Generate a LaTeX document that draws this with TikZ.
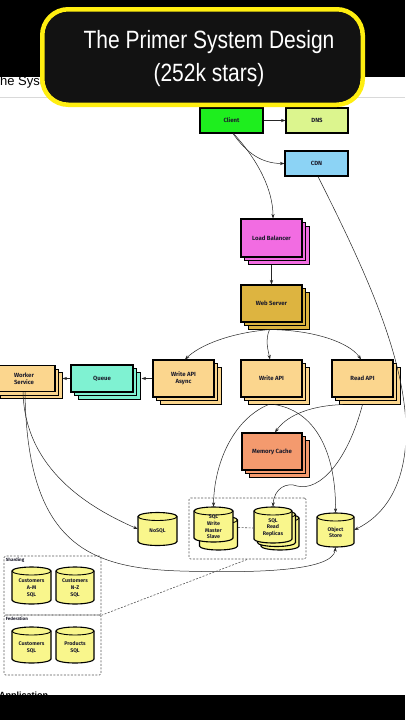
\documentclass[tikz,border=0pt]{standalone}
\usepackage{fontspec}
\usepackage{graphicx}
\setmainfont{Liberation Sans}
\newfontfamily\boxfont{Fira Sans}
\usetikzlibrary{shadows,arrows.meta,calc}
\definecolor{cgreen}{HTML}{1EEE1E}
\definecolor{cdns}{HTML}{DCF58E}
\definecolor{ccdn}{HTML}{8CD3F5}
\definecolor{clb}{HTML}{F26CE2}
\definecolor{cws}{HTML}{DDB440}
\definecolor{capi}{HTML}{FBD68E}
\definecolor{cq}{HTML}{7FF2D2}
\definecolor{cmc}{HTML}{F49A6E}
\definecolor{ycyl}{HTML}{F9F68C}
\definecolor{textc}{HTML}{1C1C2C}
\definecolor{byellow}{HTML}{FFEE10}
\definecolor{bannerbg}{HTML}{121212}
\tikzset{
  box/.style={draw=black, line width=1.1pt, fill=#1, minimum width=61pt, minimum height=37pt,
    inner sep=1pt, font=\boxfont\bfseries\fontsize{6}{7}\selectfont, align=center, text=textc},
  stackbox/.style={box=#1,
    general shadow={shadow xshift=7pt, shadow yshift=-7pt, fill=#1, draw=black, line width=0.8pt},
    general shadow={shadow xshift=3.5pt, shadow yshift=-3.5pt, fill=#1, draw=black, line width=0.8pt}},
  dbtext/.style={inner sep=0pt, font=\boxfont\bfseries\fontsize{5.3}{6.6}\selectfont, align=center, text=textc},
  dbline/.style={draw=black, line width=1.1pt, fill=ycyl},
  dashbox/.style={draw=black!65, dash pattern=on 2pt off 1.5pt, line width=0.6pt, rounded corners=1.5pt, inner sep=0pt},
  dashline/.style={draw=black!65, dash pattern=on 2pt off 1.5pt, line width=0.6pt},
  grouplabel/.style={inner sep=0pt, font=\boxfont\bfseries\fontsize{4.5}{5}\selectfont, text=textc},
  conn/.style={draw=black!85, line width=0.5pt, -{Stealth[length=4.5pt,width=3.2pt]}},
  titletext/.style={text=white, inner sep=0pt, font=\fontsize{25}{25}\selectfont}
}
\newcommand\dbshape[4]{%
  \draw[dbline] ({#1-#3},{#2+#4-4}) -- ({#1-#3},{#2-#4+4})
    arc[start angle=180,end angle=360,x radius=#3pt,y radius=4pt]
    -- ({#1+#3},{#2+#4-4})
    arc[start angle=0,end angle=180,x radius=#3pt,y radius=4pt] -- cycle;
  \draw[line width=0.9pt] ({#1-#3},{#2+#4-4})
    arc[start angle=180,end angle=360,x radius=#3pt,y radius=4pt];
}
\newcommand\dbnode[6]{%
  \dbshape{#2}{#3}{#4}{#5}%
  \node[inner sep=0pt, minimum width={2*#4}, minimum height={2*#5}] (#1) at (#2,#3) {};
  \node[dbtext] (#1text) at (#2,{#3-2.5}) {#6};
}
\begin{document}
\begin{tikzpicture}[x=1pt,y=1pt]
\useasboundingbox (0,0) rectangle (405,-720);
\clip (0,0) rectangle (405,-720);
\fill[white] (0,0) rectangle (405,-720);

% page header
\node[anchor=west, inner sep=0pt, font=\fontsize{13}{13}\selectfont] (pagetitle) at (-8,-82) {The System Design Primer};
\draw[black!15, line width=0.6pt] (0,-97) -- (405,-97);

% group boxes
\node[dashbox, minimum width=117pt, minimum height=61pt] (sqlgrp) at (247.5,-528.5) {};
\node[dashbox, minimum width=97pt, minimum height=59pt] (shard) at (52.5,-585.5) {};
\node[dashbox, minimum width=97pt, minimum height=60pt] (fed) at (52.5,-645) {};
\node[grouplabel, anchor=north west] (shardlbl) at ([xshift=2pt,yshift=-1.5pt]shard.north west) {Sharding};
\node[grouplabel, anchor=north west] (fedlbl) at ([xshift=2pt,yshift=-1.5pt]fed.north west) {Federation};

% boxes
\node[box=cgreen, minimum height=25pt, minimum width=63pt] (client) at (231.5,-120.5) {Client};
\node[box=cdns, minimum height=25pt, minimum width=62pt] (dns) at (317,-120.5) {DNS};
\node[box=ccdn, minimum height=25pt, minimum width=63pt] (cdn) at (316.5,-163.5) {CDN};
\node[stackbox=clb, minimum height=38pt] (lb) at (271.5,-238) {Load Balancer};
\node[stackbox=cws] (ws) at (271.5,-303.5) {Web Server};
\node[stackbox=capi] (waa) at (183.5,-378.5) {Write API\\Async};
\node[stackbox=capi] (wa) at (271.5,-378.5) {Write API};
\node[stackbox=capi] (ra) at (362.5,-378.5) {Read API};
\node[stackbox=cq, minimum width=62pt, minimum height=27pt] (queue) at (102,-378.5) {Queue};
\node[stackbox=capi, minimum width=62pt, minimum height=26pt] (worker) at (24,-378.5) {Worker\\Service};
\node[stackbox=cmc, minimum width=60pt] (mc) at (272,-451.5) {Memory Cache};

% databases
\dbnode{nosql}{157.5}{-529}{19.5}{16.5}{NoSQL}
\dbshape{218.5}{-533}{19}{17}
\dbnode{sqlw}{213.5}{-524.5}{19.5}{17.5}{SQL\\Write\\Master\\Slave}
\dbshape{280}{-532}{19}{18}
\dbshape{276.5}{-528.5}{19}{18}
\dbnode{sqlr}{273}{-525}{19}{18}{SQL\\Read\\Replicas}
\dbnode{os}{335.5}{-530}{18.5}{17}{Object\\Store}
\dbnode{cam}{31.5}{-585.5}{19.5}{18.5}{Customers\\A-M\\SQL}
\dbnode{cnz}{75}{-585.5}{19}{18.5}{Customers\\N-Z\\SQL}
\dbnode{csql}{31.5}{-645}{19.5}{18}{Customers\\SQL}
\dbnode{psql}{75}{-645}{19}{18}{Products\\SQL}

% connectors
\draw[conn] (client.east) -- (dns.west);
\draw[conn] ([xshift=1.5pt]client.south) to[out=-55,in=180] (cdn.west);
\draw[conn] ([xshift=2pt]client.south) .. controls (258,-160) and (273,-190) .. ([xshift=1.5pt]lb.north);
\draw[conn] ([yshift=-7pt]lb.south) -- (ws.north);
\coordinate (wsb) at ([xshift=-2pt,yshift=-7pt]ws.south);
\draw[conn] (wsb) .. controls (230,-333) and (200,-345) .. ([xshift=1.5pt]waa.north);
\draw[conn] (wsb) .. controls (265,-340) and (268,-350) .. ([xshift=-1.5pt]wa.north);
\draw[conn] (wsb) .. controls (315,-330) and (350,-343) .. ([xshift=-1.5pt]ra.north);
\draw[conn] (waa.west) -- ([xshift=8pt]queue.east);
\draw[conn] (queue.west) -- ([xshift=7pt]worker.east);
\draw[conn] ([xshift=-1pt]worker.south) .. controls (25,-470) and (90,-508) .. (nosql.west);
\draw[conn] ([xshift=1pt]worker.south) .. controls (27,-545) and (90,-568) .. (180,-571)
   .. controls (250,-573) and (333,-572) .. (os.south);
\draw[conn] ([xshift=-3pt,yshift=-7pt]wa.south) .. controls (232,-420) and (214,-465) .. (sqlw.north);
\draw[conn] ([xshift=3pt,yshift=-7pt]wa.south) .. controls (320,-412) and (336,-460) .. (os.north);
\draw[conn] ([xshift=-20pt,yshift=-7pt]ra.south) .. controls (305,-406) and (285,-418) .. ([xshift=3pt]mc.north);
\draw[conn] ([yshift=-7pt]ra.south) .. controls (348,-460) and (320,-492) .. (297,-486)
   .. controls (287,-482) and (274,-488) .. (sqlr.north);
\draw[conn] ([xshift=1.5pt]cdn.south) .. controls (365,-270) and (407,-360) .. (406,-435)
   .. controls (405,-485) and (385,-515) .. (os.east);
\draw[dashline] ([xshift=5pt,yshift=-3pt]sqlw.east) -- ([yshift=-3pt]sqlr.west);
\draw[dashline] (shard.south east) -- (sqlgrp.south);

% bottom
\node[anchor=west, inner sep=0pt, font=\bfseries\fontsize{9}{9}\selectfont] (apptext) at (-1,-696.5) {Application};
\fill[black] (0,-695) rectangle (405,-720);

% top band and banner
\fill[black] (0,0) rectangle (405,-77);
\node[draw=byellow, line width=4.5pt, fill=bannerbg, rounded corners=26pt,
  minimum width=320.5pt, minimum height=95.5pt, inner sep=0pt] (banner) at (202.5,-57) {};
\node[titletext] (t1) at (209,-42) {\scalebox{0.84}[1]{The Primer System Design}};
\node[titletext] (t2) at (209,-75) {\scalebox{0.84}[1]{(252k stars)}};
\end{tikzpicture}
\end{document}
